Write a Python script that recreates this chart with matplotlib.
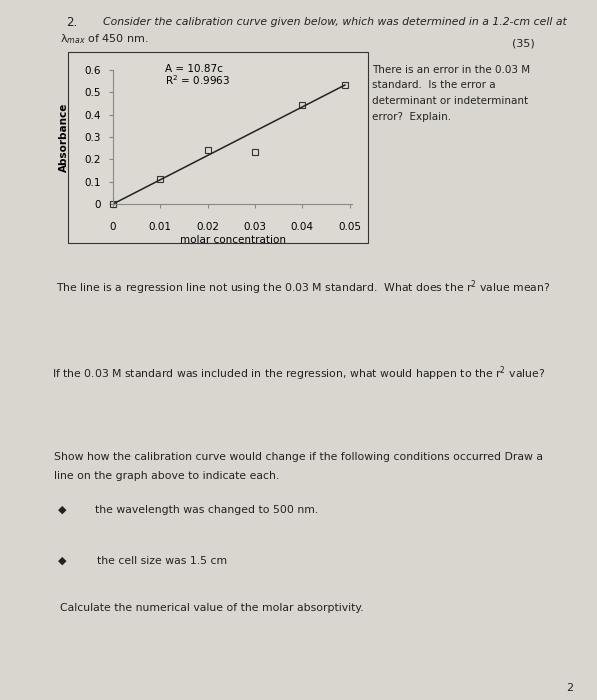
import matplotlib
matplotlib.use("Agg")
import matplotlib.pyplot as plt
from matplotlib.patches import Rectangle

conc = [0, 0.01, 0.02, 0.03, 0.04, 0.049]
absorb = [0, 0.113, 0.243, 0.232, 0.445, 0.532]
slope = 10.87
xticks = [0, 0.01, 0.02, 0.03, 0.04, 0.05]
xticklabels = ["0", "0.01", "0.02", "0.03", "0.04", "0.05"]
yticks = [0, 0.1, 0.2, 0.3, 0.4, 0.5, 0.6]

W, H = 597, 700
bg = "#d9d6cf"
fig = plt.figure(figsize=(W/100, H/100), dpi=100, facecolor=bg)

def T(x, y, s, size=8, **kw):
    fig.text(x/W, 1 - y/H, s, fontsize=size, va="center", ha=kw.pop("ha", "left"), color="#222222", **kw)

# chart frame
fig.patches.append(Rectangle((68/W, 1-243/H), 300/W, 191/H, transform=fig.transFigure,
                             fill=True, facecolor="#dcd9d2", edgecolor="#333333", lw=0.8, zorder=-5))

ax = fig.add_axes([113/W, 1-204/H, (352-113)/W, (204-70)/H])
ax.set_zorder(2)
ax.set_facecolor("none")
ax.set_xlim(0, 0.0505)
ax.set_ylim(0, 0.6)
ax.plot(conc, absorb, "s", mfc="none", mec="#333333", ms=4, mew=0.8, clip_on=False)
ax.plot([0, conc[-1]], [0, slope*conc[-1]], color="#222222", lw=1.1)
ax.set_xticks(xticks)
ax.set_xticklabels(xticklabels, fontsize=7.5)
ax.set_yticks(yticks)
ax.set_yticklabels([f"{v:g}" for v in yticks], fontsize=7.5)
ax.set_xlabel("molar concentration", fontsize=7.5, labelpad=2)
ax.set_ylabel("Absorbance", fontsize=7.5, fontweight="bold")
ax.yaxis.set_label_coords(-0.185, 0.5)
for s in ["top", "right"]:
    ax.spines[s].set_visible(False)
for s in ["left", "bottom"]:
    ax.spines[s].set_color("#888888")
ax.tick_params(axis="x", length=3, color="#888888", pad=10)
ax.tick_params(axis="y", length=3, color="#888888", pad=6)
ax.text(0.011, 0.59, "A = 10.87c", fontsize=7.5)
ax.text(0.011, 0.535, "R$^2$ = 0.9963", fontsize=7.5)

T(66, 22, "2.", 8.5)
T(103, 22, "Consider the calibration curve given below, which was determined in a 1.2-cm cell at", 7.8, style="italic")
T(60, 39, "λ$_{max}$ of 450 nm.", 8)
T(512, 44, "(35)", 8)
for i, line in enumerate(["There is an error in the 0.03 M", "standard.  Is the error a",
                          "determinant or indeterminant", "error?  Explain."]):
    T(372, 70 + 15.5*i, line, 7.5)
T(56, 288, "The line is a regression line not using the 0.03 M standard.  What does the r$^2$ value mean?", 7.8)
T(52, 374, "If the 0.03 M standard was included in the regression, what would happen to the r$^2$ value?", 7.8)
T(54, 457, "Show how the calibration curve would change if the following conditions occurred Draw a", 7.8)
T(54, 476, "line on the graph above to indicate each.", 7.8)
T(58, 510, "◆", 8)
T(95, 510, "the wavelength was changed to 500 nm.", 7.8)
T(58, 561, "◆", 8)
T(97, 561, "the cell size was 1.5 cm", 7.8)
T(60, 608, "Calculate the numerical value of the molar absorptivity.", 7.8)
T(566, 688, "2", 8)

fig.savefig("out.png", dpi=100, facecolor=bg)
